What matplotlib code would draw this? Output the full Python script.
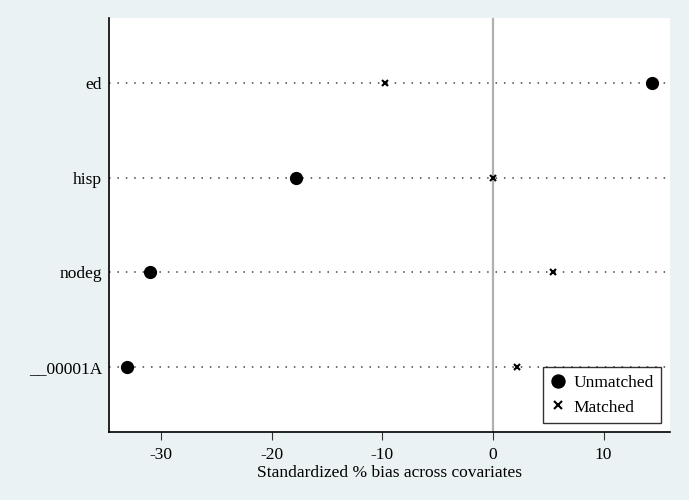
import numpy as np
import matplotlib.pyplot as plt

# covariates, top to bottom
covariates = ['ed', 'hisp', 'nodeg', '__00001A']
unmatched = [14.4, -17.8, -31.0, -33.1]
matched = [-9.8, 0.0, 5.4, 2.2]
xticks = [-30, -20, -10, 0, 10]

bg = '#eaf2f3'
plt.rcParams['font.family'] = ['Liberation Serif', 'DejaVu Serif']

fig = plt.figure(figsize=(6.89, 5.0), dpi=100, facecolor=bg)
ax = fig.add_axes([109/689, 1 - 432/500, (670-109)/689, (432-18)/500])

ypos = np.arange(len(covariates))[::-1] + 1
for y in ypos:
    ax.axhline(y, color='#444444', linestyle=(0, (1, 4.5)), linewidth=1.1, zorder=1)
ax.axvline(0, color='#b0b0b0', linewidth=1.6, zorder=1)

ax.plot(unmatched, ypos, 'o', color='black', markersize=8.5, linestyle='none',
        label='Unmatched', zorder=3)
ax.plot(matched, ypos, 'x', color='black', markersize=5, markeredgewidth=1.5,
        linestyle='none', label='Matched', zorder=3)

ax.set_xlim(-34.7, 16.0)
ax.set_ylim(0.316, 4.684)
ax.set_xticks(xticks)
ax.set_xticklabels([str(t) for t in xticks], fontsize=12.5)
ax.set_yticks(ypos)
ax.set_yticklabels(covariates, fontsize=12.5)
ax.tick_params(axis='y', length=0, pad=5)
ax.tick_params(axis='x', length=6, color='#333333', pad=5)
ax.set_xlabel('Standardized % bias across covariates', fontsize=12.5, labelpad=1)

for s in ['top', 'right']:
    ax.spines[s].set_visible(False)
for s in ['left', 'bottom']:
    ax.spines[s].set_linewidth(1.2)

leg = ax.legend(loc='lower right', fontsize=12.5, frameon=True, fancybox=False,
                edgecolor='black', handletextpad=0.5, borderpad=0.45,
                labelspacing=0.5, handlelength=0.8, markerscale=1.1,
                borderaxespad=0.5)
leg.get_frame().set_linewidth(1)

fig.savefig('out.png', dpi=100, facecolor=bg)
